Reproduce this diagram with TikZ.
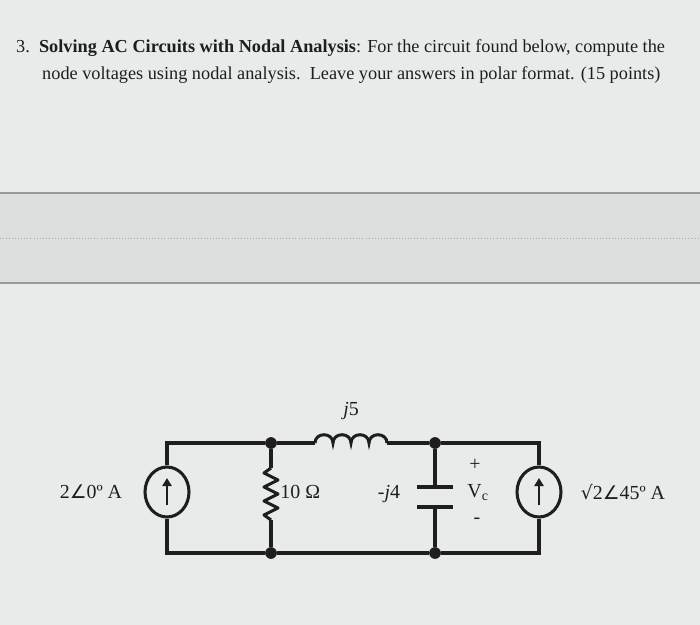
\documentclass[tikz,border=0pt]{standalone}
\usepackage{fontspec}
\setmainfont{Liberation Serif}
\newfontfamily\symf{DejaVu Sans}
\usetikzlibrary{arrows.meta,shapes.geometric}
\definecolor{bg}{HTML}{E9EBEA}
\definecolor{band}{HTML}{DDDFDE}
\definecolor{ink}{HTML}{1E1E1E}
\newcommand{\ang}{{\symf\fontsize{16pt}{16pt}\selectfont ∠}}
\newlength\pxu \setlength\pxu{0.03cm}
\tikzset{
  wire/.style={draw=ink,line width=2.6pt},
  dotn/.style={circle,fill=ink,inner sep=0pt,minimum size=10pt},
  lbl/.style={font=\fontsize{17pt}{19pt}\selectfont,text=ink,inner sep=1pt},
  src/.style={ellipse,draw=ink,line width=2.6pt,minimum width=44\pxu,minimum height=50\pxu,inner sep=0pt},
}
\begin{document}
\begin{tikzpicture}[x=0.03cm,y=-0.03cm]
\fill[bg] (0,0) rectangle (700,625);
\useasboundingbox (0,0) rectangle (700,625);
\fill[band] (0,193) rectangle (700,283);
\draw[gray!80,line width=1pt] (0,193) -- (700,193);
\draw[gray!80,line width=1pt] (0,283) -- (700,283);
\draw[gray!70,line width=0.6pt,dotted] (0,238) -- (700,238);
\node[anchor=west,font=\fontsize{15.6pt}{18pt}\selectfont,inner sep=0,text=ink] (q1) at (16,48) {3.\ \ \textbf{Solving AC Circuits with Nodal Analysis}: For the circuit found below, compute the};
\node[anchor=west,font=\fontsize{15.6pt}{18pt}\selectfont,inner sep=0,text=ink] (q2) at (42,75) {node voltages using nodal analysis.\ \ Leave your answers in polar format. (15 points)};
% nodes
\coordinate (tl) at (167,443);
\coordinate (bl) at (167,553);
\coordinate (tr) at (539,443);
\coordinate (br) at (539,553);
\node[dotn] (n1) at (271,443) {};
\node[dotn] (n2) at (271,553) {};
\node[dotn] (n3) at (435,443) {};
\node[dotn] (n4) at (435,553) {};
\coordinate (l1) at (315,443);
\coordinate (l2) at (387,443);
\coordinate (r1) at (271,468);
\coordinate (r2) at (271,520);
\coordinate (c1) at (435,487);
\coordinate (c2) at (435,507);
\node[src] (s1) at (167,492) {};
\node[src] (s2) at (539,492) {};
% wires
\draw[wire] (s1.north) -- (tl) -- (n1) -- (l1);
\draw[wire] (l2) -- (n3) -- (tr) -- (s2.north);
\draw[wire] (s1.south) -- (bl) -- (n2) -- (n4) -- (br) -- (s2.south);
\draw[wire] (n1) -- (r1);
\draw[wire] (r2) -- (n2);
\draw[wire,line join=round] (r1) -- (264,473) -- (278,480) -- (264,487) -- (278,494) -- (264,501) -- (278,508) -- (264,515) -- (r2);
\draw[wire] (l1) .. controls (315,432) and (333,432) .. (333,443)
  .. controls (333,432) and (351,432) .. (351,443)
  .. controls (351,432) and (369,432) .. (369,443)
  .. controls (369,432) and (387,432) .. (l2);
\draw[wire] (n3) -- (c1);
\draw[wire] (c2) -- (n4);
\draw[wire] (417,487) -- (453,487);
\draw[wire] (417,507) -- (453,507);
% source arrows
\draw[draw=ink,line width=2.4pt,-{Triangle[length=7pt,width=8pt]}] (167,505) -- (167,478);
\draw[draw=ink,line width=2.4pt,-{Triangle[length=7pt,width=8pt]}] (539,505) -- (539,478);
% labels
\node[lbl] (t1) at (91,492) {2\ang0º A};
\node[lbl,anchor=west] (t2) at (279,492) {10 Ω};
\node[lbl] (t3) at (351,411) {\textit{j}5};
\node[lbl] (t4) at (389,494) {-\textit{j}4};
\node[lbl] (t5) at (475,465) {+};
\node[lbl] (t6) at (478,493) {V\textsubscript{c}};
\node[lbl] (t7) at (477,521) {-};
\node[lbl] (t8) at (623,492) {{\symf\fontsize{16pt}{16pt}\selectfont √}2\ang45º A};
\end{tikzpicture}
\end{document}
